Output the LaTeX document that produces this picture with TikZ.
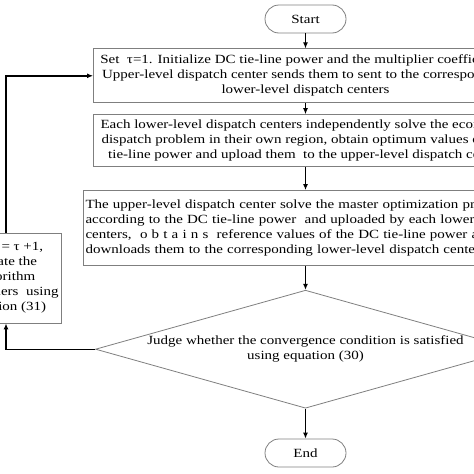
\documentclass[tikz,border=0pt]{standalone}
\usepackage{fontspec}
\setmainfont{Liberation Serif}[FakeStretch=1.2]
\usepackage{tikz}
\usetikzlibrary{positioning, shapes.geometric, arrows.meta}
\definecolor{boxline}{HTML}{7F7F7F}
\tikzset{
  block/.style={rectangle, draw=boxline, line width=0.8pt, fill=white, align=center, font=\fontsize{12.5}{15}\selectfont, minimum width=424pt, minimum height=54pt, inner sep=2pt},
  terminal/.style={rectangle, draw=boxline, line width=0.8pt, rounded corners=14pt, font=\fontsize{12.5}{15}\selectfont, minimum width=81pt, minimum height=28pt},
  decision/.style={diamond, draw=boxline, line width=0.8pt, aspect=3.56, inner sep=0pt, align=center, font=\fontsize{12.5}{15}\selectfont, minimum width=420pt, minimum height=118pt},
  arrow/.style={line width=1.1pt, -{Latex[length=6pt, width=5pt]}},
  loopline/.style={line width=1.4pt, -{Latex[length=6pt, width=5pt]}},
}

\begin{document}
\begin{tikzpicture}
        \useasboundingbox (0pt,0pt) rectangle (474pt,-474pt);
        \clip (0pt,0pt) rectangle (474pt,-474pt);

        % Start
        \node[terminal] (start) at (305.5pt,-19pt) {Start};

        % Initialization
        \node[block, below=15pt of start] (init) {Set \ τ=1. Initialize DC tie-line power and the multiplier coefficients.\\ Upper-level dispatch center sends them to sent to the corresponding\\ lower-level dispatch centers};

        % Lower-level solving
        \node[block, below=11pt of init, minimum height=52pt] (lower) {Each lower-level dispatch centers independently solve the economic\\ dispatch problem in their own region, obtain optimum values of DC\\ tie-line power and upload them \ to the upper-level dispatch center};

        % Upper-level solving
        \node[block, below=23pt of lower, minimum height=75pt, text width=440pt, align=left] (upper) {The upper-level dispatch center solve the master optimization problem\\ according to the DC tie-line power \ and uploaded by each lower-level\\ centers, \ o b t a i n s \ reference values of the DC tie-line power and\\ downloads them to the corresponding lower-level dispatch centers};

        % Convergence check
        \node[decision, below=24pt of upper] (judge) {Judge whether the convergence condition is satisfied\\ using equation (30)};

        % End
        \node[terminal, below=30pt of judge] (end) {End};

        % Multiplier update
        \node[block, minimum width=110pt, minimum height=90pt] (update) at (6pt,-278pt) {Set τ = τ +1,\\ update the\\ algorithm\\ multipliers \ using\\ equation (31)};

        % Connections
        \draw[arrow] (start) -- (init);
        \draw[arrow] (init) -- (lower);
        \draw[arrow] (lower) -- (upper);
        \draw[arrow] (upper) -- (judge);
        \draw[arrow] (judge) -- (end);
        \draw[loopline] (judge.west) -| (update.south);
        \draw[loopline] (update.north) |- (init.west);
\end{tikzpicture}
\end{document}
